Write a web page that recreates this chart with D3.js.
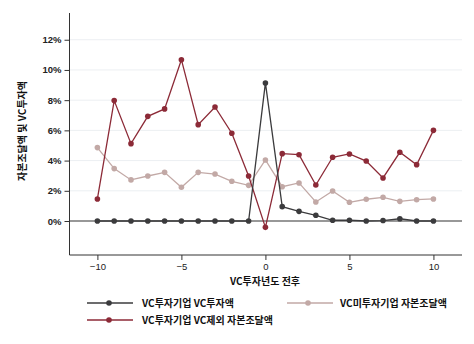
<!DOCTYPE html>
<html><head><meta charset="utf-8">
<script src="https://cdn.jsdelivr.net/npm/d3@7"></script>
<style>body{margin:0;background:#fff}svg{display:block}</style>
</head><body>
<svg id="c" width="474" height="344"></svg>
<script>
const years = [-10,-9,-8,-7,-6,-5,-4,-3,-2,-1,0,1,2,3,4,5,6,7,8,9,10];
const vcInvest = [0,0,0,0,0,0,0,0,0,0,9.14,0.95,0.64,0.38,0.05,0.05,0.0,0.03,0.15,0.0,0.0];
const vcExclCapital = [1.46,7.97,5.12,6.93,7.42,10.68,6.38,7.55,5.81,2.98,-0.42,4.46,4.39,2.38,4.22,4.44,3.97,2.85,4.55,3.73,6.0];
const nonVcCapital = [4.86,3.47,2.72,2.98,3.22,2.23,3.22,3.11,2.63,2.36,4.04,2.27,2.52,1.26,1.99,1.24,1.44,1.57,1.30,1.41,1.46];
const yTicks = [0,2,4,6,8,10,12];
const xTicks = [-10,-5,0,5,10];
const seriesNames = ["VC투자기업 VC투자액","VC미투자기업 자본조달액","VC투자기업 VC제외 자본조달액"];
const seriesColors = ["#3b3b3d","#c2a9a6","#8c2a37"];

(function(){
const svg = d3.select("#c");
const pL = 69.5, pR = 462, pT = 13, pB = 255;
const x = d3.scaleLinear().domain([-11.66, 11.7]).range([pL, pR]);
const y = d3.scaleLinear().domain([-2.25, 13.77]).range([pB, pT]);
const font = "Arial, 'Liberation Sans', sans-serif";
const kfont = "'Noto Sans CJK KR', 'Noto Sans', sans-serif";

svg.append("g").selectAll("line").data(yTicks.filter(d=>d>0)).join("line")
  .attr("x1", pL).attr("x2", pR)
  .attr("y1", d=>y(d)).attr("y2", d=>y(d))
  .attr("stroke", "#eceff2").attr("stroke-width", 1);

svg.append("line").attr("x1", pL).attr("x2", pR)
  .attr("y1", y(0)).attr("y2", y(0)).attr("stroke", "#333").attr("stroke-width", 1.2);

const yAxis = d3.axisLeft(y).tickValues(yTicks).tickSize(5).tickPadding(3).tickFormat(d=>d+"%");
const gy = svg.append("g").attr("transform", `translate(${pL},0)`).call(yAxis);
gy.select(".domain").attr("d", `M0,${pT}V${pB}`).attr("stroke", "#333");
gy.selectAll(".tick line").attr("stroke", "#333");
gy.selectAll("text").attr("font-family", font).attr("font-size", 9.5).attr("font-weight", "bold").attr("fill", "#222");

const xAxis = d3.axisBottom(x).tickValues(xTicks).tickSize(5).tickPadding(3);
const gx = svg.append("g").attr("transform", `translate(0,${pB})`).call(xAxis);
gx.select(".domain").attr("d", `M${pL},0H${pR}`).attr("stroke", "#333");
gx.selectAll(".tick line").attr("stroke", "#333");
gx.selectAll("text").attr("font-family", font).attr("font-size", 9.5).attr("fill", "#222");

svg.append("text").attr("x", 265).attr("y", 285).attr("text-anchor", "middle")
  .attr("font-family", kfont).attr("font-size", 10).attr("font-weight", "bold").attr("fill", "#111")
  .text("VC투자년도 전후");
svg.append("text").attr("transform", "translate(26,131) rotate(-90)").attr("text-anchor", "middle")
  .attr("font-family", kfont).attr("font-size", 10).attr("font-weight", "bold").attr("fill", "#111")
  .text("자본조달액 및 VC투자액");

const data = [vcInvest, nonVcCapital, vcExclCapital];
const order = [1, 2, 0];
const line = d3.line().x((d,i)=>x(years[i])).y(d=>y(d));
order.forEach(k=>{
  const g = svg.append("g");
  g.append("path").datum(data[k]).attr("d", line).attr("fill","none")
    .attr("stroke", seriesColors[k]).attr("stroke-width", 1.3);
  g.selectAll("circle").data(data[k]).join("circle")
    .attr("cx", (d,i)=>x(years[i])).attr("cy", d=>y(d)).attr("r", 2.8)
    .attr("fill", seriesColors[k]);
});

const legendPos = [[87,133,109,142,303],[287,333,308,340,303],[87,133,109,142,320]];
seriesNames.forEach((name,k)=>{
  const [x1,x2,cx,tx,ly] = legendPos[k];
  svg.append("line").attr("x1",x1).attr("x2",x2).attr("y1",ly).attr("y2",ly)
    .attr("stroke", seriesColors[k]).attr("stroke-width",1.3);
  svg.append("circle").attr("cx",cx).attr("cy",ly).attr("r",2.8).attr("fill",seriesColors[k]);
  svg.append("text").attr("x",tx).attr("y",ly+3.5)
    .attr("font-family", kfont).attr("font-size", 10).attr("font-weight","bold").attr("fill","#111")
    .text(name);
});
})();
</script>
</body></html>
